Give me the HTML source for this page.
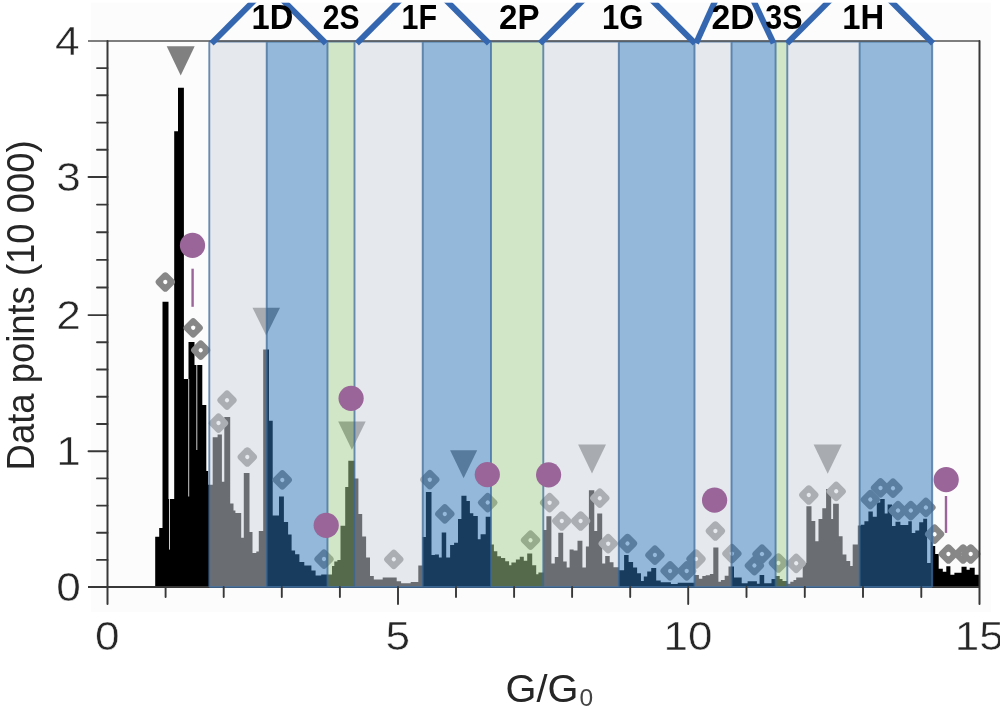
<!DOCTYPE html><html><head><meta charset="utf-8"><title>G/G0 histogram</title><style>html,body{margin:0;padding:0;background:#fff;overflow:hidden}svg{display:block}text{font-family:"Liberation Sans",Arial,sans-serif}</style></head><body>
<svg width="1000" height="709" viewBox="0 0 1000 709">
<rect x="0" y="0" width="1000" height="709" fill="#fff"/>
<rect x="91" y="0" width="900" height="612" fill="#fcfcfc"/>
<path d="M155.2 587V536.7H159.2V528H162.5V301.7H168.5V499H174.2V131.3H178V87.8H183.9V379H188.5V342H194.5V365H202.3V405H206.3V471H208.2V484.7H212.7V437.3H217.6V434.5H221.9V481.7H224.3V417H230.2V503.4H233.5V510.5H235.4V513H241.2V537.8H243.8V473H249.5V532H252.5V553H256.3V551.4H258.8V531H263.2V349.6H269V420.8H272.7V515.4H279V496.5H283.9V522H288.1V534.4H291.6V550.6H295.1V554.2H299.4V562H304.3V565.5H311.4V570.4H315.6V575.5H321.2V574.6H326.5V574.5H332V566H334.3V561.5H337.4V560H340.5V525.8H345.2V487H348.3V460.7H354.5V478.5H358.4V514.1H362.2V536.6H366.1V557.6H370V576H373.8V579.4H382.7V577.5H396.7V581.3H401.1V583.2H410.7V582H418.3V565.4H422.5V537.1H425.9V491.9H431.5V555.1H434.9V554.5H438.9V557.4H441.7V532.6H446.2V557.4H450.1V545H454.1V542.7H458V519H461.4V495.8H466.5V500.9H469.9V513.3H473.3V516H477.8V539.3H480.6V534.2H485.7V516.8H490.8V544.4H493.9V551.2H497.3V556.2H501V558H505.2V561.3H509.1V565.3H511.4V562.4H515.9V559.6H519.8V556.8H523.8V560.7H527.2V553.4H532.2V565.3H536.2V574.3H538.4V572.6H543.5V529.9H546.4V516.2H551.4V563.4H554.8V557H558.3V532.8H563.2V561.5H566.7V567.4H569.6V549.6H573.6V550.6H577.5V540.7H582.4V567.4H585.9V546.5H588.9V490.2H594.3V531H597.2V513.4H602.2V563.4H605.2V556H609.7V562.3H613.5V567.2H618.8V570.3H624.1V555.1H628.6V561.9H633.1V567.5H637.1V573.2H641V581H643.8V576.5H647.2V571.5H651.2V568.1H656.2V580.5H660.7V582.2H670.9V583.9H677.7V582.7H694.5V574.9H698.9V578.7H702.3V576.1H705.7V575.3H709.9V574H713.3V547.4H718.4V581.7H720.9V580H724.7V575.7H728.5V566.4H734V577.4H741.7V583.3H747.6V581.2H756.9V583.7H759.6V575H764.2V583.2H771.5V579.1H775.6V575.9H779.7V579.1H782.5V580.9H787.3V583.7H790.3V581.8H793.5V580H796.2V577.5H802.7V563H806.4V506.3H811.5V520.9H815.3V541.2H818.5V519H822.3V508.2H826.1V489H831.2V519H833.1V503.8H838.8V536.2H842.6V554.6H846.4V560.9H850.2V566H852.7V544.4H857.8V525.4H861V524.7H864.4V521.3H868.4V511.4H872.8V516.8H876.8V502.5H880.2V499.1H884.7V513.4H887.6V504.5H892V526H895.5V521.8H900.4V525H908.3V521.3H911.8V533H915.3V530.6H919.2V522.3H923.2V518.8H927.1V563H930.6V530H932.6V545.9H935.2V554H938.7V568.7H942.8V571.8H946.3V566.2H950.4V574.8H954.4V572.8H961.5V566.7H966.6V569.7H969.7V567.7H974.7V574.8H979V587Z" fill="#000"/>
<rect x="169" y="499" width="1" height="50.6" fill="#fff" opacity="0.8"/>
<rect x="188.2" y="379" width="1" height="117.5" fill="#fff" opacity="0.8"/>
<rect x="196.3" y="365" width="1" height="85" fill="#fff" opacity="0.8"/>
<path d="M166.7 46.2H194.7L180.7 75.5Z" fill="#808080"/>
<path d="M252.5 307.7H280L266.2 335.5Z" fill="#808080"/>
<path d="M338.2 421.6H365.7L351.9 449.8Z" fill="#808080"/>
<path d="M450.1 450.2H477.2L463.6 478.3Z" fill="#808080"/>
<path d="M578.1 444.4H606L592 473.6Z" fill="#808080"/>
<path d="M813.6 444.5H841.8L827.7 473.8Z" fill="#808080"/>
<g transform="translate(165.3 282) rotate(45)"><rect x="-7.8" y="-7.8" width="15.6" height="15.6" rx="3.4" fill="#878787"/><circle r="2.1" fill="#fff"/></g>
<g transform="translate(193.2 327.8) rotate(45)"><rect x="-7.8" y="-7.8" width="15.6" height="15.6" rx="3.4" fill="#878787"/><circle r="2.1" fill="#fff"/></g>
<g transform="translate(200.7 350.2) rotate(45)"><rect x="-7.8" y="-7.8" width="15.6" height="15.6" rx="3.4" fill="#878787"/><circle r="2.1" fill="#fff"/></g>
<g transform="translate(227 400.2) rotate(45)"><rect x="-7.8" y="-7.8" width="15.6" height="15.6" rx="3.4" fill="#878787"/><circle r="2.1" fill="#fff"/></g>
<g transform="translate(218.5 423.1) rotate(45)"><rect x="-7.8" y="-7.8" width="15.6" height="15.6" rx="3.4" fill="#878787"/><circle r="2.1" fill="#fff"/></g>
<g transform="translate(247.3 457) rotate(45)"><rect x="-7.8" y="-7.8" width="15.6" height="15.6" rx="3.4" fill="#878787"/><circle r="2.1" fill="#fff"/></g>
<g transform="translate(282.3 479.9) rotate(45)"><rect x="-7.8" y="-7.8" width="15.6" height="15.6" rx="3.4" fill="#878787"/><circle r="2.1" fill="#fff"/></g>
<g transform="translate(324 559.1) rotate(45)"><rect x="-7.8" y="-7.8" width="15.6" height="15.6" rx="3.4" fill="#878787"/><circle r="2.1" fill="#fff"/></g>
<g transform="translate(393.8 559.3) rotate(45)"><rect x="-7.8" y="-7.8" width="15.6" height="15.6" rx="3.4" fill="#878787"/><circle r="2.1" fill="#fff"/></g>
<g transform="translate(429.8 479.7) rotate(45)"><rect x="-7.8" y="-7.8" width="15.6" height="15.6" rx="3.4" fill="#878787"/><circle r="2.1" fill="#fff"/></g>
<g transform="translate(444.8 513.9) rotate(45)"><rect x="-7.8" y="-7.8" width="15.6" height="15.6" rx="3.4" fill="#878787"/><circle r="2.1" fill="#fff"/></g>
<g transform="translate(487.7 502.6) rotate(45)"><rect x="-7.8" y="-7.8" width="15.6" height="15.6" rx="3.4" fill="#878787"/><circle r="2.1" fill="#fff"/></g>
<g transform="translate(530.5 540.2) rotate(45)"><rect x="-7.8" y="-7.8" width="15.6" height="15.6" rx="3.4" fill="#878787"/><circle r="2.1" fill="#fff"/></g>
<g transform="translate(549.6 502.7) rotate(45)"><rect x="-7.8" y="-7.8" width="15.6" height="15.6" rx="3.4" fill="#878787"/><circle r="2.1" fill="#fff"/></g>
<g transform="translate(561.8 521) rotate(45)"><rect x="-7.8" y="-7.8" width="15.6" height="15.6" rx="3.4" fill="#878787"/><circle r="2.1" fill="#fff"/></g>
<g transform="translate(580.6 521) rotate(45)"><rect x="-7.8" y="-7.8" width="15.6" height="15.6" rx="3.4" fill="#878787"/><circle r="2.1" fill="#fff"/></g>
<g transform="translate(599.8 498.2) rotate(45)"><rect x="-7.8" y="-7.8" width="15.6" height="15.6" rx="3.4" fill="#878787"/><circle r="2.1" fill="#fff"/></g>
<g transform="translate(608.2 543.7) rotate(45)"><rect x="-7.8" y="-7.8" width="15.6" height="15.6" rx="3.4" fill="#878787"/><circle r="2.1" fill="#fff"/></g>
<g transform="translate(627.5 543.5) rotate(45)"><rect x="-7.8" y="-7.8" width="15.6" height="15.6" rx="3.4" fill="#878787"/><circle r="2.1" fill="#fff"/></g>
<g transform="translate(654.9 555.1) rotate(45)"><rect x="-7.8" y="-7.8" width="15.6" height="15.6" rx="3.4" fill="#878787"/><circle r="2.1" fill="#fff"/></g>
<g transform="translate(670.1 570.9) rotate(45)"><rect x="-7.8" y="-7.8" width="15.6" height="15.6" rx="3.4" fill="#878787"/><circle r="2.1" fill="#fff"/></g>
<g transform="translate(686.7 570.9) rotate(45)"><rect x="-7.8" y="-7.8" width="15.6" height="15.6" rx="3.4" fill="#878787"/><circle r="2.1" fill="#fff"/></g>
<g transform="translate(696 559) rotate(45)"><rect x="-7.8" y="-7.8" width="15.6" height="15.6" rx="3.4" fill="#878787"/><circle r="2.1" fill="#fff"/></g>
<g transform="translate(715.4 531) rotate(45)"><rect x="-7.8" y="-7.8" width="15.6" height="15.6" rx="3.4" fill="#878787"/><circle r="2.1" fill="#fff"/></g>
<g transform="translate(731.9 553.7) rotate(45)"><rect x="-7.8" y="-7.8" width="15.6" height="15.6" rx="3.4" fill="#878787"/><circle r="2.1" fill="#fff"/></g>
<g transform="translate(754.4 565.6) rotate(45)"><rect x="-7.8" y="-7.8" width="15.6" height="15.6" rx="3.4" fill="#878787"/><circle r="2.1" fill="#fff"/></g>
<g transform="translate(762 554.1) rotate(45)"><rect x="-7.8" y="-7.8" width="15.6" height="15.6" rx="3.4" fill="#878787"/><circle r="2.1" fill="#fff"/></g>
<g transform="translate(778.4 563) rotate(45)"><rect x="-7.8" y="-7.8" width="15.6" height="15.6" rx="3.4" fill="#878787"/><circle r="2.1" fill="#fff"/></g>
<g transform="translate(796.2 563.3) rotate(45)"><rect x="-7.8" y="-7.8" width="15.6" height="15.6" rx="3.4" fill="#878787"/><circle r="2.1" fill="#fff"/></g>
<g transform="translate(808.8 495) rotate(45)"><rect x="-7.8" y="-7.8" width="15.6" height="15.6" rx="3.4" fill="#878787"/><circle r="2.1" fill="#fff"/></g>
<g transform="translate(836.2 491.3) rotate(45)"><rect x="-7.8" y="-7.8" width="15.6" height="15.6" rx="3.4" fill="#878787"/><circle r="2.1" fill="#fff"/></g>
<g transform="translate(870.3 499.6) rotate(45)"><rect x="-7.8" y="-7.8" width="15.6" height="15.6" rx="3.4" fill="#878787"/><circle r="2.1" fill="#fff"/></g>
<g transform="translate(880.5 487.9) rotate(45)"><rect x="-7.8" y="-7.8" width="15.6" height="15.6" rx="3.4" fill="#878787"/><circle r="2.1" fill="#fff"/></g>
<g transform="translate(893 488.2) rotate(45)"><rect x="-7.8" y="-7.8" width="15.6" height="15.6" rx="3.4" fill="#878787"/><circle r="2.1" fill="#fff"/></g>
<g transform="translate(898 510.6) rotate(45)"><rect x="-7.8" y="-7.8" width="15.6" height="15.6" rx="3.4" fill="#878787"/><circle r="2.1" fill="#fff"/></g>
<g transform="translate(910.8 510.6) rotate(45)"><rect x="-7.8" y="-7.8" width="15.6" height="15.6" rx="3.4" fill="#878787"/><circle r="2.1" fill="#fff"/></g>
<g transform="translate(925.9 507.4) rotate(45)"><rect x="-7.8" y="-7.8" width="15.6" height="15.6" rx="3.4" fill="#878787"/><circle r="2.1" fill="#fff"/></g>
<g transform="translate(934.6 534.2) rotate(45)"><rect x="-7.8" y="-7.8" width="15.6" height="15.6" rx="3.4" fill="#878787"/><circle r="2.1" fill="#fff"/></g>
<g transform="translate(948.4 554) rotate(45)"><rect x="-7.8" y="-7.8" width="15.6" height="15.6" rx="3.4" fill="#878787"/><circle r="2.1" fill="#fff"/></g>
<g transform="translate(963.1 554) rotate(45)"><rect x="-7.8" y="-7.8" width="15.6" height="15.6" rx="3.4" fill="#878787"/><circle r="2.1" fill="#fff"/></g>
<g transform="translate(970.7 554) rotate(45)"><rect x="-7.8" y="-7.8" width="15.6" height="15.6" rx="3.4" fill="#878787"/><circle r="2.1" fill="#fff"/></g>
<path d="M88 587.1H979.5" stroke="#383838" stroke-width="2"/>
<rect x="209.3" y="41.5" width="57.4" height="545.5" fill="rgb(206,214,224)" fill-opacity="0.515"/>
<rect x="266.7" y="41.5" width="60.8" height="545.5" fill="rgb(45,118,182)" fill-opacity="0.51"/>
<rect x="327.5" y="41.5" width="27" height="545.5" fill="rgb(167,208,145)" fill-opacity="0.51"/>
<rect x="354.5" y="41.5" width="68.2" height="545.5" fill="rgb(206,214,224)" fill-opacity="0.515"/>
<rect x="422.7" y="41.5" width="68.3" height="545.5" fill="rgb(45,118,182)" fill-opacity="0.51"/>
<rect x="491" y="41.5" width="52.3" height="545.5" fill="rgb(167,208,145)" fill-opacity="0.51"/>
<rect x="543.3" y="41.5" width="75.5" height="545.5" fill="rgb(206,214,224)" fill-opacity="0.515"/>
<rect x="618.8" y="41.5" width="75.7" height="545.5" fill="rgb(45,118,182)" fill-opacity="0.51"/>
<rect x="694.5" y="41.5" width="37" height="545.5" fill="rgb(206,214,224)" fill-opacity="0.515"/>
<rect x="731.5" y="41.5" width="44.1" height="545.5" fill="rgb(45,118,182)" fill-opacity="0.51"/>
<rect x="775.6" y="41.5" width="11.7" height="545.5" fill="rgb(167,208,145)" fill-opacity="0.51"/>
<rect x="787.3" y="41.5" width="72.3" height="545.5" fill="rgb(206,214,224)" fill-opacity="0.515"/>
<rect x="859.6" y="41.5" width="72.6" height="545.5" fill="rgb(45,118,182)" fill-opacity="0.51"/>
<path d="M209.3 41.5V587M266.7 41.5V587M327.5 41.5V587M354.5 41.5V587M422.7 41.5V587M491 41.5V587M543.3 41.5V587M618.8 41.5V587M694.5 41.5V587M731.5 41.5V587M775.6 41.5V587M787.3 41.5V587M859.6 41.5V587M932.2 41.5V587M209.3 41.5H932.2M209.3 587H932.2" fill="none" stroke="rgb(60,105,155)" stroke-opacity="0.75" stroke-width="1.9"/>
<circle cx="192.5" cy="245.4" r="12.6" fill="#9a6599"/>
<circle cx="351.1" cy="398.3" r="12.6" fill="#9a6599"/>
<circle cx="326.2" cy="525.3" r="12.6" fill="#9a6599"/>
<circle cx="487.3" cy="474.6" r="12.6" fill="#9a6599"/>
<circle cx="548.6" cy="474.8" r="12.6" fill="#9a6599"/>
<circle cx="714.6" cy="500.2" r="12.6" fill="#9a6599"/>
<circle cx="946.2" cy="479.7" r="12.6" fill="#9a6599"/>
<rect x="191.4" y="268.7" width="2.4" height="38.1" fill="#9a6599"/>
<rect x="944.8" y="496" width="2.4" height="36.9" fill="#9a6599"/>
<g stroke="#383838" fill="none">
<path d="M88 40.9H979.5" stroke-width="1.5" stroke="#555"/>
<path d="M107.5 40.9V604M979.5 40.9V604" stroke-width="2" stroke-linecap="round"/>
<path d="M97 68.1H107.5M97 95.3H107.5M97 122.6H107.5M97 149.8H107.5M97 204.6H107.5M97 232.2H107.5M97 259.9H107.5M97 287.5H107.5M97 342.3H107.5M97 369.5H107.5M97 396.8H107.5M97 424H107.5M97 478.4H107.5M97 505.6H107.5M97 532.7H107.5M97 559.9H107.5M88.5 177H107.5M88.5 315.1H107.5M88.5 451.2H107.5" stroke-width="1.9" stroke-linecap="round"/>
<path d="M165.6 587V597M223.7 587V597M281.8 587V597M339.9 587V597M456 587V597M514.1 587V597M572.1 587V597M630.2 587V597M746.5 587V597M804.8 587V597M863 587V597M921.3 587V597M398 587V604M688.2 587V604" stroke-width="1.9" stroke-linecap="round"/>
</g>
<g fill="#262626" font-size="41.5">
<text x="55" y="54.9" textLength="24.6" lengthAdjust="spacingAndGlyphs" stroke="#fff" stroke-width="0.5">4</text>
<text x="56.2" y="191" textLength="24.6" lengthAdjust="spacingAndGlyphs" stroke="#fff" stroke-width="0.5">3</text>
<text x="56.2" y="329.1" textLength="24.6" lengthAdjust="spacingAndGlyphs" stroke="#fff" stroke-width="0.5">2</text>
<text x="56.2" y="465.2" textLength="24.6" lengthAdjust="spacingAndGlyphs" stroke="#fff" stroke-width="0.5">1</text>
<text x="56.2" y="601.1" textLength="24.6" lengthAdjust="spacingAndGlyphs" stroke="#fff" stroke-width="0.5">0</text>
<text x="94.9" y="650" textLength="24.6" lengthAdjust="spacingAndGlyphs" stroke="#fff" stroke-width="0.5">0</text>
<text x="385.4" y="650" textLength="24.6" lengthAdjust="spacingAndGlyphs" stroke="#fff" stroke-width="0.5">5</text>
<text x="663.4" y="650" textLength="49" lengthAdjust="spacingAndGlyphs" stroke="#fff" stroke-width="0.5">10</text>
<text x="954.8" y="650" textLength="49" lengthAdjust="spacingAndGlyphs" stroke="#fff" stroke-width="0.5">15</text>
<text x="505.5" y="701.8" font-size="39" textLength="73" lengthAdjust="spacingAndGlyphs">G/G</text><text x="579.5" y="706.3" font-size="24.5" fill="#444">0</text>
<text transform="translate(33.6 470.4) rotate(-90)" font-size="38.5" textLength="330" lengthAdjust="spacingAndGlyphs">Data points (10 000)</text>
</g>
<g stroke="#3567b0" stroke-width="6" stroke-linecap="butt">
<line x1="211.5" y1="43.3" x2="254.8" y2="0"/>
<line x1="325.9" y1="43.3" x2="282.6" y2="0"/>
<line x1="356.8" y1="43.3" x2="400.1" y2="0"/>
<line x1="489" y1="43.3" x2="445.7" y2="0"/>
<line x1="540" y1="43.3" x2="583.3" y2="0"/>
<line x1="695" y1="43.3" x2="651.7" y2="0"/>
<line x1="696.1" y1="43.3" x2="715.6" y2="0"/>
<line x1="773.6" y1="43.3" x2="753.2" y2="0"/>
<line x1="787" y1="43.3" x2="830.3" y2="0"/>
<line x1="933" y1="43.3" x2="889.7" y2="0"/>
</g>
<rect x="0" y="0" width="1000" height="2.7" fill="#fff"/>
<g font-weight="bold" font-size="34.5" fill="#000">
<text x="251.5" y="29" textLength="41.8" lengthAdjust="spacingAndGlyphs">1D</text>
<text x="322.7" y="29" textLength="36.8" lengthAdjust="spacingAndGlyphs">2S</text>
<text x="401.5" y="29" textLength="35.5" lengthAdjust="spacingAndGlyphs">1F</text>
<text x="499" y="29" textLength="40.5" lengthAdjust="spacingAndGlyphs">2P</text>
<text x="602" y="29" textLength="41.5" lengthAdjust="spacingAndGlyphs">1G</text>
<text x="711.5" y="29" textLength="43" lengthAdjust="spacingAndGlyphs">2D</text>
<text x="765.3" y="29" textLength="37.2" lengthAdjust="spacingAndGlyphs">3S</text>
<text x="842.3" y="29" textLength="41.9" lengthAdjust="spacingAndGlyphs">1H</text>
</g>
</svg></body></html>
